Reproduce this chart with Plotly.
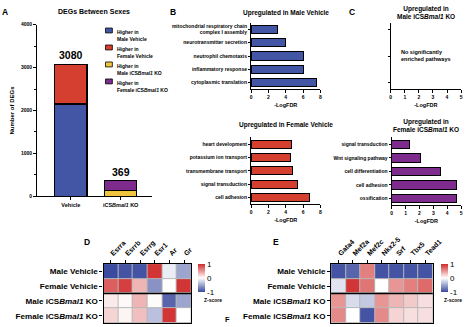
import plotly.graph_objects as go

W, H = 474, 327
F = "Liberation Sans"


def xd(a, b):
    return [a / W, b / W]


def yd(t, b):
    return [1 - b / H, 1 - t / H]


def px(x):
    return x / W


def py(y):
    return 1 - y / H


# ---------------- data ----------------
# Panel A
deg_groups = ["Vehicle", "iCS<i>Bmal1</i> KO"]
deg_series = ["Higher in<br>Male Vehicle", "Higher in<br>Female Vehicle",
              "Higher in<br>Male iCS<i>Bmal1</i> KO", "Higher in<br>Female iCS<i>Bmal1</i> KO"]
up_male_vehicle = [2150, None]
up_female_vehicle = [930, None]
up_male_ko = [None, 130]
up_female_ko = [None, 239]
deg_totals = [3080, 369]

# Panel B
male_terms = ["mitochondrial respiratory chain<br>complex I assembly", "neurotransmitter secretion",
              "neutrophil chemotaxis", "inflammatory response", "cytoplasmic translation"]
male_logfdr = [3.0, 4.0, 6.0, 6.1, 7.5]
female_terms = ["heart development", "potassium ion transport", "transmembrane transport",
                "signal transduction", "cell adhesion"]
female_logfdr = [4.7, 4.6, 4.8, 5.3, 6.7]

# Panel C
mko_slots = ["1", "2", "3", "4", "5"]
fko_terms = ["signal transduction", "Wnt signaling pathway", "cell differentiation",
             "cell adhesion", "ossification"]
fko_logfdr = [1.3, 2.05, 3.5, 4.65, 4.65]

# Panels D / E
hm_groups = ["Male Vehicle", "Female Vehicle", "Male iCS<i>Bmal1</i> KO", "Female iCS<i>Bmal1</i> KO"]
d_genes = ["Esrra", "Esrrb", "Esrrg", "Esr1", "Ar", "Gr"]
d_z = [
    [-1.0, -0.95, -0.95, 0.95, -0.1, -0.5],
    [0.75, 0.9, 0.35, -0.6, 0.0, 0.95],
    [0.1, 0.03, 0.35, 0.02, -0.85, -0.5],
    [0.2, 0.05, 0.3, -0.35, 0.95, 0.0],
]
e_genes = ["Gata4", "Mef2a", "Mef2c", "Nkx2-5", "Srf", "Tbx5", "Tead1"]
e_z = [
    [-0.95, -0.85, 0.6, -0.95, -0.95, -0.95, -0.95],
    [-0.15, 0.95, 0.65, 0.0, 0.5, 0.6, 0.7],
    [0.5, -0.2, -0.3, 0.5, 0.35, 0.25, 0.15],
    [0.55, 0.0, -0.95, 0.55, 0.2, 0.15, 0.15],
]
cb_ticks = [-1, 0, 1]
cb_labels = ["-1", "0", "1"]

BLUE = "#4356A6"
RED = "#D43F2F"
YELLOW = "#EFC540"
PURPLE = "#7E2B8E"
colors_A = [BLUE, RED, YELLOW, PURPLE]
cscale = [[0, "#3A4A9E"], [0.5, "#FFFFFF"], [1, "#D02A2A"]]

fig = go.Figure()

# ---------------- Panel A ----------------
for name, vals, col in zip(deg_series, [up_male_vehicle, up_female_vehicle, up_male_ko, up_female_ko], colors_A):
    fig.add_trace(go.Bar(x=list(range(len(deg_groups))), y=vals, name=name, width=0.65,
                         marker=dict(color=col, line=dict(color="black", width=1.2)),
                         xaxis="x", yaxis="y", showlegend=False))

# ---------------- Panel B ----------------
fig.add_trace(go.Bar(x=male_logfdr, y=male_terms, orientation="h", width=0.62,
                     marker=dict(color=BLUE, line=dict(color="black", width=1)),
                     xaxis="x2", yaxis="y2", showlegend=False))
fig.add_trace(go.Bar(x=female_logfdr, y=female_terms, orientation="h", width=0.62,
                     marker=dict(color=RED, line=dict(color="black", width=1)),
                     xaxis="x3", yaxis="y3", showlegend=False))

# ---------------- Panel C ----------------
fig.add_trace(go.Bar(x=[None] * len(mko_slots), y=mko_slots, orientation="h",
                     xaxis="x4", yaxis="y4", showlegend=False))
fig.add_trace(go.Bar(x=fko_logfdr, y=fko_terms, orientation="h", width=0.62,
                     marker=dict(color=PURPLE, line=dict(color="black", width=1)),
                     xaxis="x5", yaxis="y5", showlegend=False))


def cbar(x0):
    return dict(x=px(x0), xanchor="left", y=py(266), yanchor="top",
                thickness=7, thicknessmode="pixels", len=28, lenmode="pixels",
                xpad=0, ypad=0, outlinewidth=0, tickmode="array", tickvals=cb_ticks, ticktext=cb_labels,
                ticks="", tickfont=dict(family=F, size=8, color="black"))


# ---------------- Panels D / E ----------------
fig.add_trace(go.Heatmap(z=d_z, x=d_genes, y=hm_groups, zmin=-1, zmax=1, colorscale=cscale,
                         xgap=1, ygap=1, xaxis="x6", yaxis="y6", colorbar=cbar(202)))
fig.add_trace(go.Heatmap(z=e_z, x=e_genes, y=hm_groups, zmin=-1, zmax=1, colorscale=cscale,
                         xgap=1, ygap=1, xaxis="x7", yaxis="y7", colorbar=cbar(450)))

tickf = dict(family=F, size=5, color="black", weight="bold")
base_ax = dict(showline=True, linecolor="black", linewidth=1.2, ticks="outside", ticklen=3,
               tickwidth=1, tickcolor="black", showgrid=False, zeroline=False, tickfont=tickf)


def bar_x(dom, anchor, rng, dtick):
    return dict(base_ax, domain=dom, anchor=anchor, range=rng, dtick=dtick,
                title=dict(text="-LogFDR", font=dict(family=F, size=5.5, color="black", weight="bold"),
                           standoff=3))


def bar_y(dom, anchor):
    return dict(base_ax, domain=dom, anchor=anchor, autorange="reversed", ticklen=2)


lay = dict(
    width=W, height=H, autosize=False, margin=dict(l=0, r=0, t=0, b=0),
    paper_bgcolor="white", plot_bgcolor="white", barmode="stack",
    font=dict(family=F, color="black"),
    xaxis=dict(base_ax, domain=xd(37, 155), anchor="y", range=[-0.676, 1.637],
               tickvals=list(range(len(deg_groups))), ticktext=deg_groups,
               tickfont=dict(family=F, size=5.5, color="black", weight="bold")),
    yaxis=dict(base_ax, domain=yd(22, 197), anchor="x", range=[0, 4000], dtick=1000,
               minor=dict(dtick=500, ticks="outside", ticklen=2, tickcolor="black"),
               title=dict(text="Number of DEGs", font=dict(family=F, size=6, color="black", weight="bold"),
                          standoff=5)),
    xaxis2=bar_x(xd(256, 327), "y2", [0, 8], 2),
    yaxis2=bar_y(yd(20, 88), "x2"),
    xaxis3=bar_x(xd(256, 327), "y3", [0, 8], 2),
    yaxis3=bar_y(yd(137, 205), "x3"),
    xaxis4=bar_x(xd(399, 471), "y4", [0, 5], 1),
    yaxis4=dict(bar_y(yd(20, 88), "x4"), showticklabels=False),
    xaxis5=bar_x(xd(400, 471), "y5", [0, 5], 1),
    yaxis5=bar_y(yd(137, 206), "x5"),
)

hm_xf = dict(family=F, size=7, color="black", weight="bold")
hm_yf = dict(family=F, size=8.1, color="black", weight="bold")
for ax, dom in (("6", xd(105, 195)), ("7", xd(338, 442))):
    lay["xaxis" + ax] = dict(domain=dom, anchor="y" + ax, side="top", tickangle=-45, ticks="outside",
                             ticklen=3, tickcolor="black", showline=True, mirror=True, linecolor="black",
                             linewidth=1.2, showgrid=False, zeroline=False, tickfont=hm_xf)
    lay["yaxis" + ax] = dict(domain=yd(266, 326), anchor="x" + ax, autorange="reversed", ticks="outside",
                             ticklen=3, tickcolor="black", showline=True, mirror=True, linecolor="black",
                             linewidth=1.2, showgrid=False, zeroline=False, tickfont=hm_yf)

fig.update_layout(**lay)

# heatmap grid background + group separator
shapes = []
for ax in ("6", "7"):
    shapes.append(dict(type="rect", xref="x%s domain" % ax, yref="y%s domain" % ax, x0=0, x1=1, y0=0, y1=1,
                       fillcolor="#B8B8B8", line=dict(width=0), layer="below"))
    shapes.append(dict(type="line", xref="x%s domain" % ax, yref="y%s domain" % ax, x0=0, x1=1, y0=0.5, y1=0.5,
                       line=dict(color="black", width=1.5)))

# manual legend for panel A
ann = []
for i, (name, col) in enumerate(zip(deg_series, colors_A)):
    yc = 28 + 17.3 * i
    shapes.append(dict(type="rect", xref="paper", yref="paper", x0=px(107), x1=px(114),
                       y0=py(yc + 2.5), y1=py(yc - 2.5), fillcolor=col, line=dict(color="black", width=0.8)))
    ann.append(dict(x=px(117), y=py(yc - 3.5), xref="paper", yref="paper", xanchor="left", yanchor="top",
                    align="left", text=name, showarrow=False,
                    font=dict(family=F, size=5, color="black", weight="bold")))

# totals on top of bars
for i, t in enumerate(deg_totals):
    ann.append(dict(x=i, y=t, xref="x", yref="y", text=str(t), showarrow=False, yanchor="bottom", yshift=1,
                    font=dict(family=F, size=10.5, color="black", weight="bold")))


def txt(x, y, s, size, xanchor="center", weight="bold", align="center"):
    ann.append(dict(x=px(x), y=py(y), xref="paper", yref="paper", text=s, showarrow=False,
                    xanchor=xanchor, yanchor="middle", align=align,
                    font=dict(family=F, size=size, color="black", weight=weight)))


txt(95, 9, "DEGs Between Sexes", 7)
txt(292, 10, "Upregulated in Male Vehicle", 6.5)
txt(292, 124, "Upregulated in Female Vehicle", 6.5)
txt(435, 9.5, "Upregulated in<br>Male iCS<i>Bmal1</i> KO", 6.5)
txt(435, 125, "Upregulated in<br>Female iCS<i>Bmal1</i> KO", 6.5)
txt(407, 53, "No significantly<br>enriched pathways", 5.5, xanchor="left", align="left")
txt(4, 9, "A", 8.5)
txt(176, 9, "B", 8.5)
txt(359, 9, "C", 8.5)
txt(88, 243, "D", 8.5)
txt(282, 243, "E", 8.5)
txt(232, 322, "F", 7.5)
txt(217, 303, "Z-score", 5)
txt(463, 303, "Z-score", 5)

fig.update_layout(shapes=shapes, annotations=ann)
fig.write_html("out.html")
